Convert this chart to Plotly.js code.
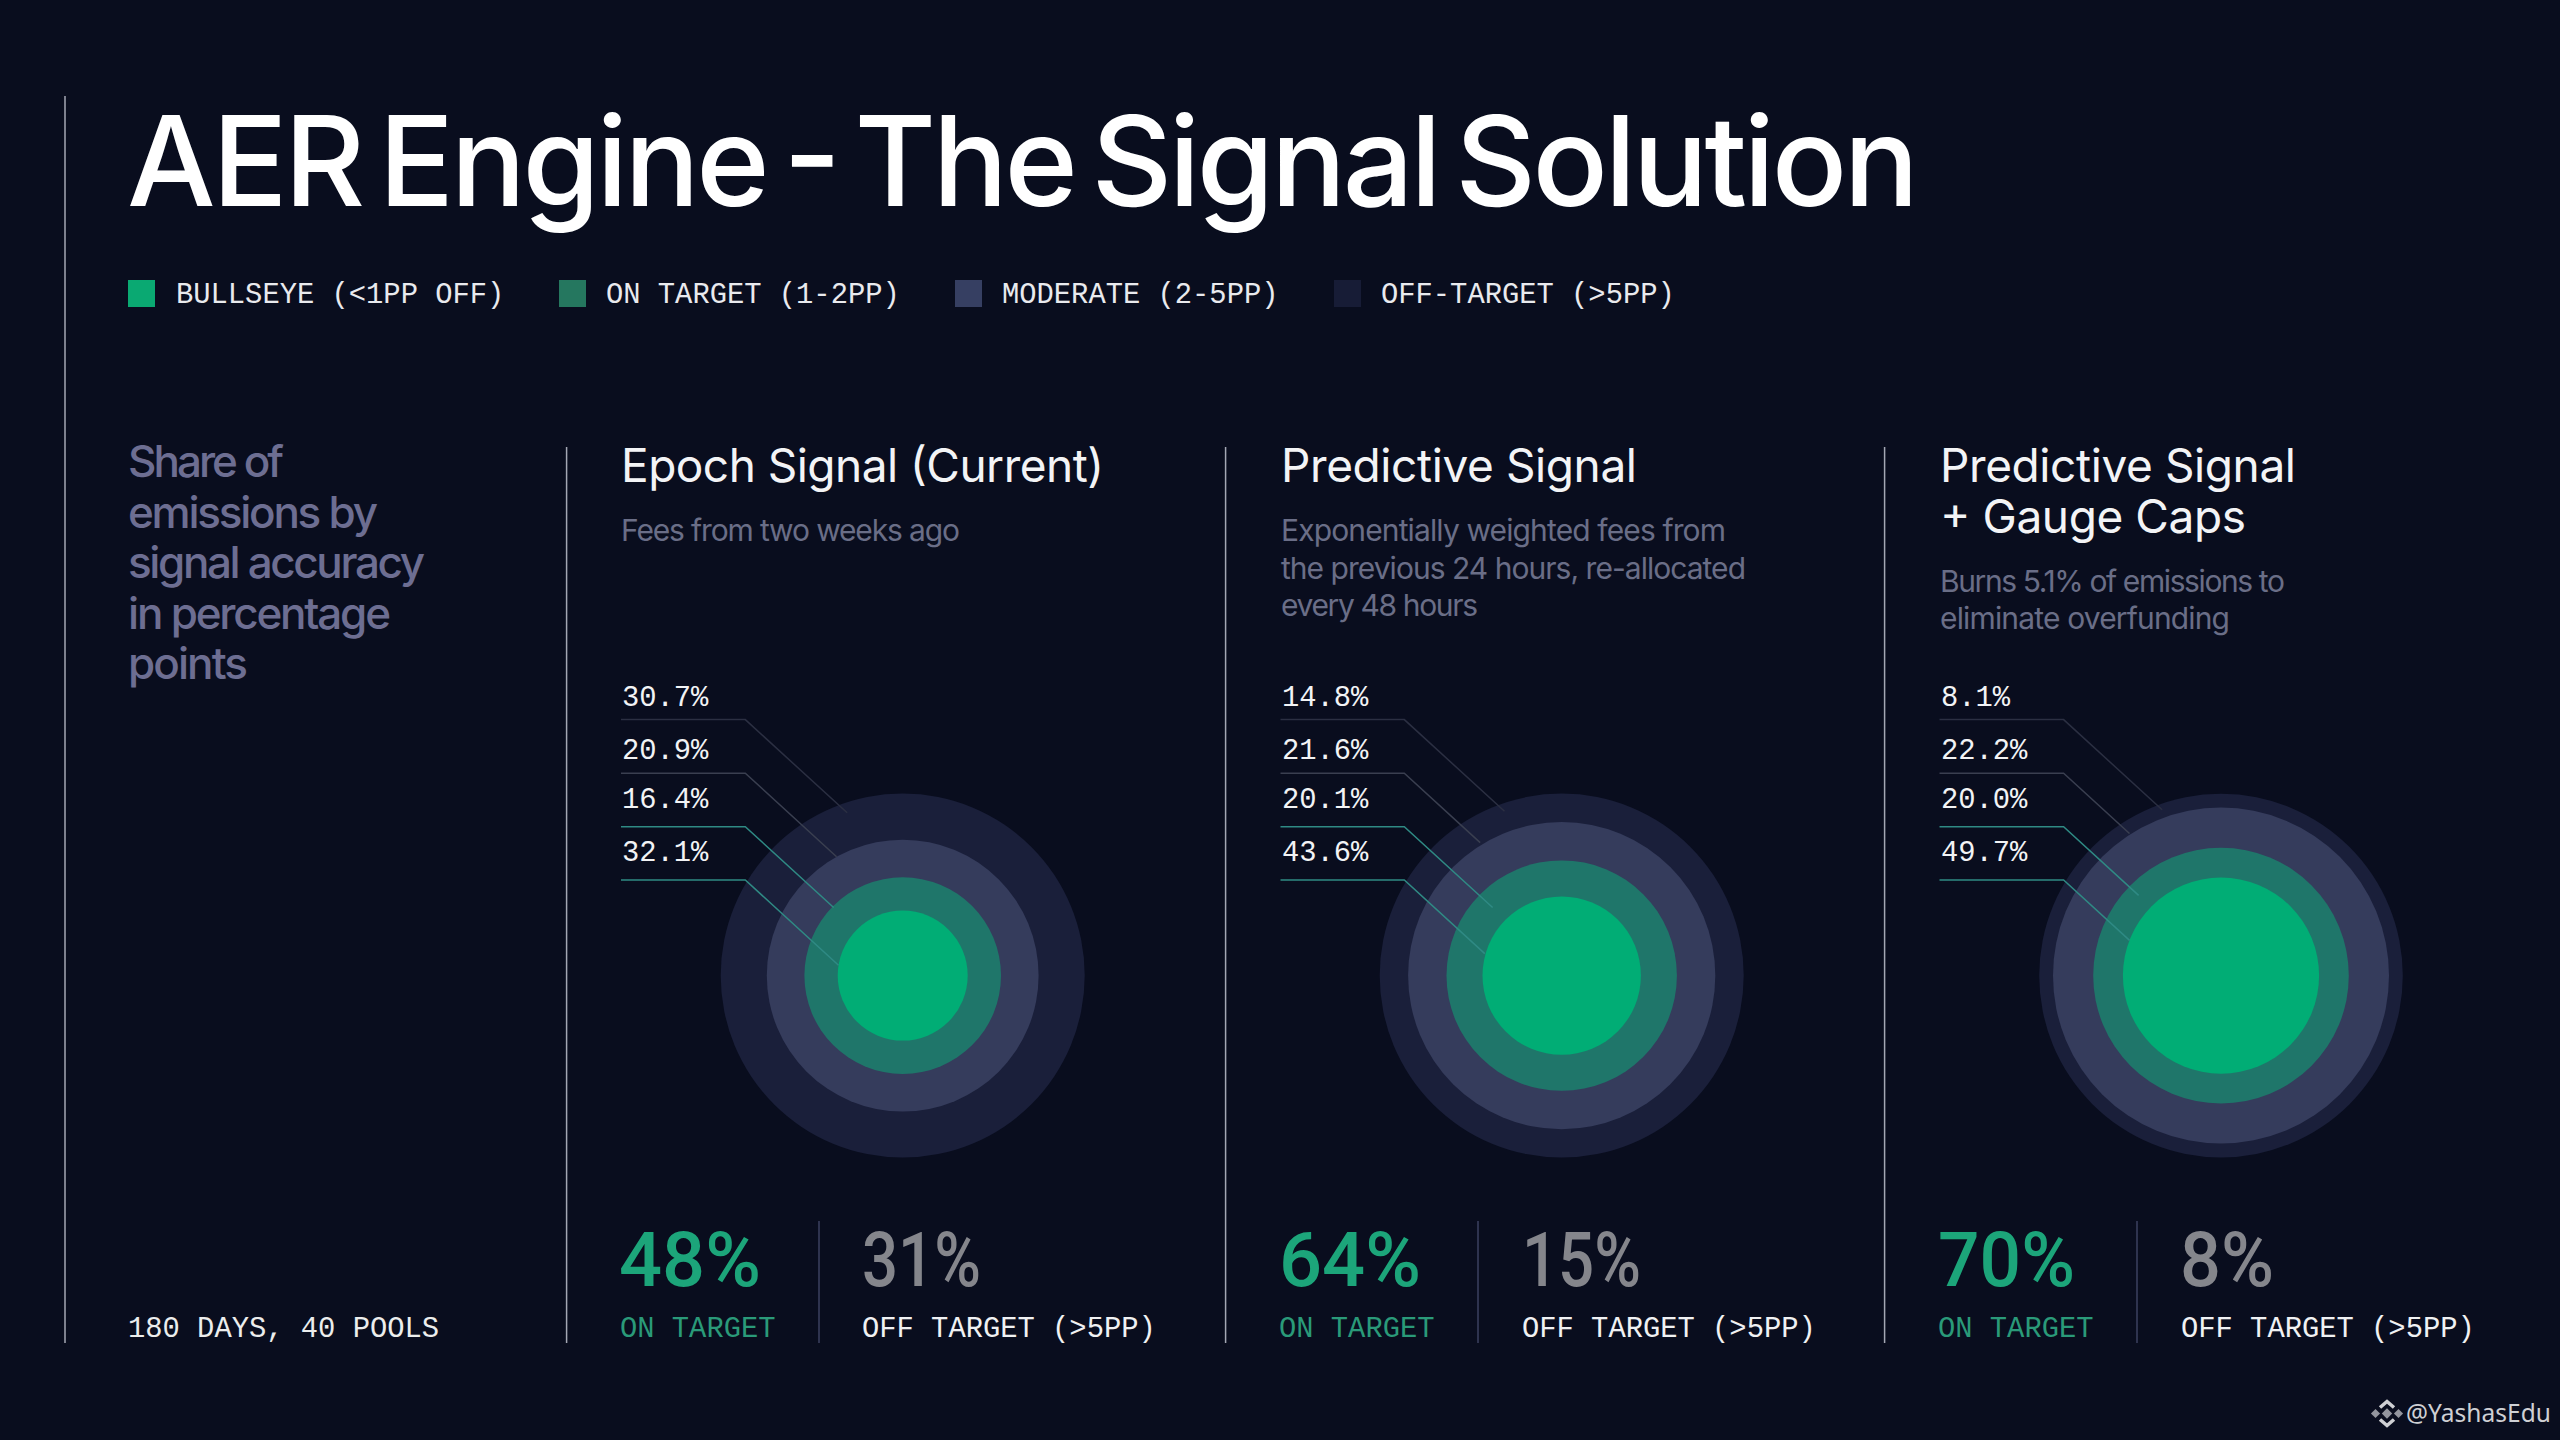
<!DOCTYPE html>
<html>
<head>
<meta charset="utf-8">
<script src="https://cdn.plot.ly/plotly-3.0.1.min.js"></script>
<style>html,body{margin:0;padding:0;background:#090d1e}#chart{width:2560px;height:1440px}</style>
</head>
<body>
<div id="chart"></div>
<script>
// ---------- data ----------
const legendLabels = ['BULLSEYE (<1PP OFF)', 'ON TARGET (1-2PP)', 'MODERATE (2-5PP)', 'OFF-TARGET (>5PP)'];
// shares listed top to bottom: off-target, moderate, on target, bullseye
const epochShares = [30.7, 20.9, 16.4, 32.1];
const predictiveShares = [14.8, 21.6, 20.1, 43.6];
const gaugeShares = [8.1, 22.2, 20.0, 49.7];
const onTargetTotals = [48, 64, 70];
const offTargetTotals = [31, 15, 8];
// ring radii, outermost to innermost
const epochRings = [182, 135.9, 98.3, 65];
const predictiveRings = [182, 153.6, 115.2, 79.2];
const gaugeRings = [181.8, 168, 127.8, 98.1];
const panelTitles = [['Epoch Signal (Current)'], ['Predictive Signal'], ['Predictive Signal', '+ Gauge Caps']];
const panelNotes = [
  ['Fees from two weeks ago'],
  ['Exponentially weighted fees from', 'the previous 24 hours, re-allocated', 'every 48 hours'],
  ['Burns 5.1% of emissions to', 'eliminate overfunding']
];
const sideLines = ['Share of', 'emissions by', 'signal accuracy', 'in percentage', 'points'];

// ---------- styles and layout constants ----------
const BG = '#090d1e';
const RING = ['#1a1f3a', '#353c5c', '#1f766a', '#01ad75'];
const SWATCH = ['#0aa972', '#25775f', '#363f62', '#171c36'];
const LEAD = ['#2b2f42', '#3a3f50', '#2f8a84', '#2f8a84'];
const MONO = 'Liberation Mono', SANS = 'Inter', WM = 'Noto Sans', NUM = 'Roboto';
const BASE = {[MONO]: 0.266, [SANS]: 0.364, [WM]: 0.36, [NUM]: 0.34};
const MONO_SIZE = 28.8;
const panelX = [621, 1280.5, 1939.5];
const centerX = [902.7, 1561.7, 2221];
const centerY = 975.6;
const elbowDX = -157.4;
const leadY = [719.6, 773.2, 826.7, 880];
const pctBase = [705.8, 759, 808, 861.5];
const leadEnd = [[172, 136, 97, 65], [174, 156, 97, 80], [176, 169, 115, 98]];
const KSLOPE = 0.915;
const panelShares = [epochShares, predictiveShares, gaugeShares];
const panelRings = [epochRings, predictiveRings, gaugeRings];
const titleW = [[483], [356], [356, 306]];
const noteW = [[339], [445, 465, 197], [345, 290]];
const onW = [142, 142, 137], offW = [119, 119, 94];
const offX = [862, 1522, 2180];
const offLabelX = [862, 1522, 2181];
const ruleX = [566.6, 1225.6, 1884.6];
const divX = [819, 1478, 2137];

const annotations = [], targets = [];
function txt(x, base, text, size, color, family, w, opts) {
  opts = opts || {};
  annotations.push({
    x: x, y: base - BASE[family] * size, xref: 'x', yref: 'y', text: text, showarrow: false,
    xanchor: 'left', yanchor: 'middle', align: 'left', borderpad: 0, borderwidth: 0,
    font: {family: family, size: size, color: color, weight: opts.weight || 400}
  });
  targets.push({w: w || 0, adjust: opts.adjust || 'spacing', word: opts.word || 0});
}

const traces = [];
// bubbles
panelRings.forEach((rings, p) => {
  traces.push({
    type: 'scatter', mode: 'markers', hoverinfo: 'skip', showlegend: false,
    x: rings.map(() => centerX[p]), y: rings.map(() => centerY),
    marker: {symbol: 'circle', sizemode: 'diameter', sizeref: 1, size: rings.map(r => 2 * r), color: RING, opacity: 1, line: {width: 0}}
  });
});
// leader lines
panelShares.forEach((shares, p) => {
  shares.forEach((s, i) => {
    const ex = centerX[p] + elbowDX, ey = leadY[i];
    const dx = ex - centerX[p], dy = ey - centerY, R = leadEnd[p][i];
    const A = 1 + KSLOPE * KSLOPE, B = 2 * (dx + KSLOPE * dy), C = dx * dx + dy * dy - R * R;
    const t = (-B - Math.sqrt(B * B - 4 * A * C)) / (2 * A);
    traces.push({
      type: 'scatter', mode: 'lines', hoverinfo: 'skip', showlegend: false,
      x: [panelX[p], ex, ex + t], y: [ey, ey, ey + KSLOPE * t],
      line: {color: LEAD[i], width: 1.5}
    });
    txt(panelX[p] + 1, pctBase[i], s.toFixed(1) + '%', MONO_SIZE, '#f2f3f5', MONO);
  });
});
// legend swatches
const swatchX = [141.5, 572.5, 968.5, 1347.5];
const legendTextX = [176, 606, 1002, 1381];
traces.push({
  type: 'scatter', mode: 'markers', hoverinfo: 'skip', showlegend: false,
  x: swatchX, y: swatchX.map(() => 293.5),
  marker: {symbol: 'square', size: 27, color: SWATCH, line: {width: 0}}
});
legendLabels.forEach((l, i) => txt(legendTextX[i], 302.7, l, MONO_SIZE, '#e9eaee', MONO));

// watermark logo
const wmCx = 2387, wmCy = 1413.5;
traces.push({type: 'scatter', mode: 'lines', hoverinfo: 'skip', showlegend: false,
  x: [wmCx - 7, wmCx, wmCx + 7], y: [wmCy - 6, wmCy - 12, wmCy - 6], line: {color: '#cfd0d4', width: 3.5}});
traces.push({type: 'scatter', mode: 'lines', hoverinfo: 'skip', showlegend: false,
  x: [wmCx - 7, wmCx, wmCx + 7], y: [wmCy + 6, wmCy + 12, wmCy + 6], line: {color: '#cfd0d4', width: 3.5}});
traces.push({type: 'scatter', mode: 'markers', hoverinfo: 'skip', showlegend: false,
  x: [wmCx - 11.5, wmCx, wmCx + 11.5], y: [wmCy, wmCy, wmCy],
  marker: {symbol: 'diamond', size: [7, 8, 7], color: '#cfd0d4', line: {width: 0}}});

// header + side texts
txt(127, 205.7, 'AER Engine - The Signal Solution', 125, '#ffffff', SANS, 1792, {word: -13, weight: 500});
const sideW = [156, 250, 297, 263, 120];
sideLines.forEach((l, i) => txt(127.5, 477 + i * 50.6, l, 44, '#6d6e92', SANS, sideW[i], {weight: 500}));
txt(128, 1337, '180 DAYS, 40 POOLS', MONO_SIZE, '#eceded', MONO);

// panels
panelTitles.forEach((lines, p) => {
  lines.forEach((l, i) => txt(panelX[p], 481.7 + i * 50.6, l, 46, '#f3f4f6', SANS, titleW[p][i]));
  const base0 = 541 + (lines.length - 1) * 50.6;
  panelNotes[p].forEach((l, i) => txt(panelX[p], base0 + i * 37.5, l, 30, '#6a6e87', SANS, noteW[p][i]));
  txt(panelX[p] - 2, 1286, onTargetTotals[p] + '%', 76, '#1ca57a', NUM, onW[p], {adjust: 'spacingAndGlyphs', weight: 500});
  txt(offX[p], 1286, offTargetTotals[p] + '%', 76, '#85868c', NUM, offW[p], {adjust: 'spacingAndGlyphs', weight: 500});
  txt(panelX[p] - 1.5, 1337, 'ON TARGET', MONO_SIZE, '#2a9a79', MONO);
  txt(offLabelX[p], 1337, 'OFF TARGET (>5PP)', MONO_SIZE, '#f0f1f3', MONO);
});
txt(2406, 1421, '@YashasEdu', 24.5, '#cfd0d4', WM, 145);

// rules
const shapes = [];
function rule(x, y0, y1, color) {
  shapes.push({type: 'line', xref: 'x', yref: 'y', x0: x, x1: x, y0: y0, y1: y1, layer: 'below', line: {color: color, width: 1.5}});
}
rule(65, 96, 1343, '#a4a7b4');
ruleX.forEach(x => rule(x, 447, 1343, '#a4a7b4'));
divX.forEach(x => rule(x, 1221, 1343, '#3b4060'));

const layout = {
  width: 2560, height: 1440, margin: {l: 0, r: 0, t: 0, b: 0, pad: 0},
  paper_bgcolor: BG, plot_bgcolor: BG, showlegend: false, hovermode: false,
  xaxis: {range: [0, 2560], visible: false, fixedrange: true},
  yaxis: {range: [1440, 0], visible: false, fixedrange: true},
  shapes: shapes, annotations: annotations
};
Plotly.newPlot('chart', traces, layout, {displayModeBar: false, staticPlot: true}).then(gd => {
  const nodes = gd.querySelectorAll('g.annotation text.annotation-text');
  nodes.forEach((n, i) => {
    const t = targets[i];
    if (t.word) n.style.wordSpacing = t.word + 'px';
    if (t.w) { n.setAttribute('textLength', t.w); n.setAttribute('lengthAdjust', t.adjust); }
  });
});
</script>
</body>
</html>
